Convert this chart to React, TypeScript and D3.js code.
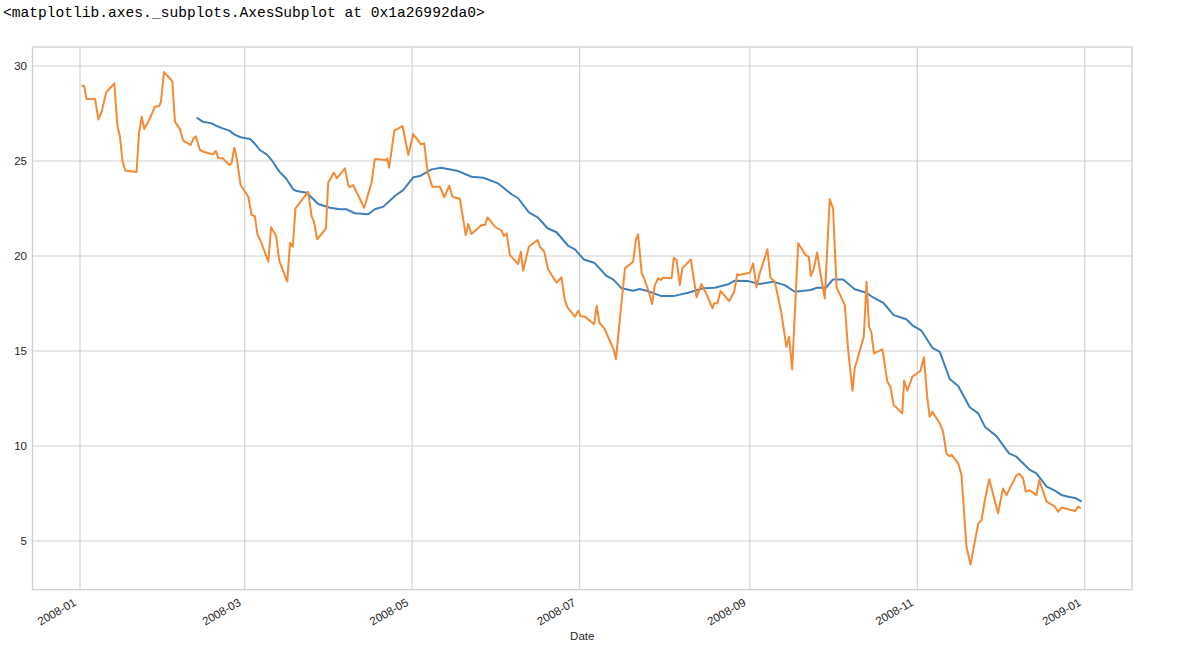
import React from 'react';
import * as d3 from 'd3';

// Daily closing price (orange): day offset from 2008-01-01 and value
const priceDays = [
  0.6, 1.5, 2.4, 5.5, 6.7, 7.9, 9.5, 10.9, 12.5, 13.6, 14.6, 15.5, 16.6, 20.6, 21.5, 22.5, 23.4, 25.5, 27.3, 28.9,
  29.5, 30.6, 33.6, 34.6, 36.4, 37.6, 40.3, 41.3, 42.2, 43.7, 44.9, 48.5, 49.5, 50.4, 52.0, 54.4, 55.2, 56.2, 57.0, 58.5,
  60.1, 61.3, 62.5, 63.7, 64.6, 65.9, 68.6, 69.6, 71.4, 72.6, 75.5, 76.5, 77.5, 78.5, 83.1, 84.4, 85.2, 86.4, 89.6, 90.4,
  92.5, 93.5, 96.5, 97.7, 98.3, 99.5, 103.5, 106.2, 107.4, 111.4, 111.9, 112.6, 114.5, 117.5, 119.6, 121.4, 124.2, 125.4, 126.6, 128.3,
  131.1, 132.7, 134.5, 135.7, 138.4, 140.5, 141.4, 142.6, 146.3, 147.5, 148.5, 151.1, 153.6, 154.4, 155.4, 156.6, 159.6, 160.6, 161.4, 163.5,
  166.7, 167.5, 169.1, 170.5, 173.6, 175.4, 176.6, 177.6, 180.3, 181.5, 182.4, 183.9, 187.3, 188.2, 189.2, 191.0, 193.4, 194.4, 195.2, 198.5,
  201.5, 202.5, 203.3, 204.6, 205.5, 207.2, 208.4, 209.4, 210.6, 211.6, 212.4, 215.5, 216.3, 217.3, 218.5, 219.4, 222.5, 224.6, 226.4, 228.6,
  230.4, 231.0, 232.2, 233.3, 236.5, 238.3, 239.4, 240.1, 244.0, 245.2, 246.4, 247.6, 250.4, 251.5, 253.1, 255.5, 257.3, 258.3, 259.4, 261.6,
  264.3, 265.5, 266.2, 267.3, 268.5, 270.1, 271.3, 273.1, 274.3, 275.6, 278.6, 279.8, 281.4, 282.2, 285.5, 286.5, 287.4, 288.3, 289.2, 292.3,
  294.1, 295.2, 296.4, 299.5, 300.2, 301.4, 303.2, 306.1, 307.4, 308.6, 309.5, 310.5, 313.2, 314.4, 315.6, 316.6, 317.5, 319.9, 321.1, 322.9,
  324.4, 327.2, 328.4, 329.6, 331.2, 334.4, 336.2, 337.5, 341.1, 342.3, 343.5, 344.5, 345.8, 348.4, 349.4, 352.1, 355.1, 356.3, 357.5, 362.4,
  363.6, 364.5,
];
const priceValues = [
  28.95, 28.95, 28.26, 28.26, 27.19, 27.6, 28.6, 28.83, 29.09, 26.9, 26.25, 24.96, 24.49, 24.42, 26.46, 27.33, 26.68, 27.25, 27.86, 27.9,
  28.12, 29.68, 29.21, 27.07, 26.68, 26.07, 25.84, 26.19, 26.3, 25.58, 25.49, 25.35, 25.53, 25.14, 25.14, 24.79, 24.88, 25.7, 25.23, 23.74,
  23.38, 23.12, 22.16, 22.1, 21.16, 20.75, 19.7, 21.51, 21.07, 19.75, 18.65, 20.7, 20.49, 22.51, 23.38, 22.07, 21.81, 20.88, 21.46, 23.86,
  24.39, 24.09, 24.61, 23.74, 23.62, 23.74, 22.54, 23.86, 25.1, 25.05, 25.14, 24.65, 26.6, 26.84, 25.32, 26.42, 25.88, 25.93, 24.44, 23.65,
  23.65, 23.09, 23.7, 23.12, 23.0, 21.1, 21.68, 21.16, 21.63, 21.63, 22.03, 21.54, 21.33, 21.05, 21.19, 20.05, 19.58, 20.23, 19.23, 20.49,
  20.84, 20.49, 20.23, 19.3, 18.6, 18.88, 17.68, 17.3, 16.81, 17.12, 16.84, 16.81, 16.41, 17.38, 16.49, 16.19, 15.41, 15.09, 14.56, 19.35,
  19.7, 20.88, 21.14, 19.09, 18.83, 18.12, 17.47, 18.47, 18.83, 18.74, 18.86, 18.83, 19.91, 19.79, 18.47, 19.35, 19.82, 17.83, 18.53, 17.86,
  17.25, 17.51, 17.51, 18.16, 17.63, 18.12, 19.05, 19.0, 19.12, 19.61, 18.35, 19.09, 20.35, 18.86, 18.65, 16.98, 15.23, 15.75, 14.03, 20.67,
  20.05, 19.96, 18.95, 19.35, 20.18, 18.74, 17.77, 23.0, 22.51, 18.35, 17.42, 15.05, 12.91, 14.09, 15.75, 18.65, 16.28, 15.96, 14.88, 15.09,
  13.39, 13.12, 12.16, 11.72, 13.44, 12.91, 13.65, 13.95, 14.67, 12.6, 11.54, 11.8, 11.19, 10.75, 9.61, 9.47, 9.53, 9.09, 8.47, 4.7,
  3.77, 5.93, 6.11, 7.16, 8.25, 6.46, 7.77, 7.42, 8.47, 8.53, 8.3, 7.6, 7.68, 7.42, 8.21, 7.07, 6.81, 6.54, 6.77, 6.58,
  6.81, 6.72,
];

// Rolling mean (blue)
const meanDays = [
  42.5, 44.7, 48.0, 49.8, 52.0, 54.4, 56.2, 58.5, 61.9, 63.4, 65.5, 68.0, 69.8, 72.6, 75.0, 77.7, 78.9, 82.6, 86.8, 91.0,
  94.7, 97.1, 100.1, 105.0, 107.4, 110.5, 114.7, 117.7, 121.4, 123.8, 128.1, 131.5, 137.8, 142.6, 146.9, 152.3, 157.2, 159.6, 163.5, 166.7,
  170.3, 173.6, 177.8, 180.3, 183.5, 187.3, 191.8, 194.2, 197.3, 201.5, 203.9, 206.4, 211.8, 216.1, 221.5, 227.0, 231.2, 236.1, 238.5, 243.4,
  247.6, 252.5, 256.7, 260.4, 266.1, 268.5, 271.7, 274.3, 278.0, 282.2, 286.5, 288.9, 292.6, 296.4, 301.0, 303.5, 306.5, 310.5, 313.2, 316.8,
  319.9, 324.1, 327.2, 329.6, 333.9, 338.4, 341.1, 346.0, 348.4, 352.1, 355.1, 357.5, 360.0, 362.8, 364.9,
];
const meanValues = [
  27.28, 27.07, 26.98, 26.84, 26.72, 26.6, 26.4, 26.25, 26.16, 25.96, 25.58, 25.35, 25.05, 24.44, 24.09, 23.51, 23.42, 23.33, 22.74, 22.54,
  22.46, 22.46, 22.25, 22.2, 22.46, 22.6, 23.16, 23.47, 24.14, 24.21, 24.56, 24.65, 24.47, 24.17, 24.12, 23.82, 23.25, 23.04, 22.3, 22.04,
  21.46, 21.25, 20.54, 20.35, 19.82, 19.65, 18.95, 18.77, 18.3, 18.17, 18.26, 18.17, 17.89, 17.89, 18.07, 18.3, 18.33, 18.51, 18.7, 18.68,
  18.53, 18.65, 18.47, 18.12, 18.21, 18.33, 18.33, 18.77, 18.77, 18.25, 18.07, 17.82, 17.54, 16.89, 16.67, 16.32, 16.07, 15.17, 14.96, 13.53,
  13.16, 12.04, 11.72, 11.02, 10.51, 9.61, 9.44, 8.74, 8.56, 7.86, 7.65, 7.42, 7.33, 7.25, 7.07,
];

const yTicks = [5, 10, 15, 20, 25, 30];
const xTickLabels = ['2008-01', '2008-03', '2008-05', '2008-07', '2008-09', '2008-11', '2009-01'];
const titleText = '<matplotlib.axes._subplots.AxesSubplot at 0x1a26992da0>';
const xAxisLabel = 'Date';

const DAY = 864e5;
const BASE = Date.UTC(2008, 0, 1);
const toDate = (d: number) => new Date(BASE + d * DAY);

export default function App() {
  const W = 1200;
  const H = 647;
  const left = 32.5;
  const top = 47;
  const right = 1132;
  const bottom = 589.7;

  const x = d3.scaleUtc().domain([toDate(-17.3), toDate(383.2)]).range([left, right]);
  const y = d3.scaleLinear().domain([2.44, 31.0]).range([bottom, top]);

  const xTicks = xTickLabels.map((s) => new Date(s + '-01T00:00:00Z'));
  const fmt = d3.utcFormat('%Y-%m');

  const priceData = priceDays.map((d, i) => ({ date: toDate(d), v: priceValues[i] }));
  const meanData = meanDays.map((d, i) => ({ date: toDate(d), v: meanValues[i] }));

  const line = d3
    .line<{ date: Date; v: number }>()
    .x((d) => x(d.date))
    .y((d) => y(d.v));

  const grid = '#d0d0d0';
  const tickFont = { fontFamily: '"Liberation Sans", Arial, sans-serif', fontSize: 11.5, fill: '#262626' };

  return (
    <svg
      width={W}
      height={H}
      style={{ position: 'absolute', left: 0, top: 0, background: '#fff' }}
      xmlns="http://www.w3.org/2000/svg"
    >
      <text
        x={3}
        y={17}
        style={{ fontFamily: '"Liberation Mono", "DejaVu Sans Mono", monospace', fontSize: 14.6, fill: '#000' }}
      >
        {titleText}
      </text>

      {/* grid */}
      {yTicks.map((t) => (
        <line key={'gy' + t} x1={left} x2={right} y1={y(t)} y2={y(t)} stroke={grid} strokeWidth={1.1} />
      ))}
      {xTicks.map((t, i) => (
        <line key={'gx' + i} x1={x(t)} x2={x(t)} y1={top} y2={bottom} stroke={grid} strokeWidth={1.1} />
      ))}

      {/* frame */}
      <rect x={left} y={top} width={right - left} height={bottom - top} fill="none" stroke={grid} strokeWidth={1.3} />

      {/* series */}
      <path d={line(meanData) || ''} fill="none" stroke="#3f7fba" strokeWidth={2} strokeLinejoin="round" />
      <path d={line(priceData) || ''} fill="none" stroke="#f38a35" strokeWidth={2} strokeLinejoin="round" />

      {/* y tick labels */}
      {yTicks.map((t) => (
        <text key={'yl' + t} x={left - 5.5} y={y(t)} dy="0.35em" textAnchor="end" style={tickFont}>
          {t}
        </text>
      ))}

      {/* x tick labels */}
      {xTicks.map((t, i) => (
        <text
          key={'xl' + i}
          transform={`translate(${x(t) - 3},${bottom + 15}) rotate(-30)`}
          textAnchor="end"
          style={tickFont}
        >
          {fmt(t)}
        </text>
      ))}

      <text x={(left + right) / 2} y={640} textAnchor="middle" style={tickFont}>
        {xAxisLabel}
      </text>
    </svg>
  );
}
